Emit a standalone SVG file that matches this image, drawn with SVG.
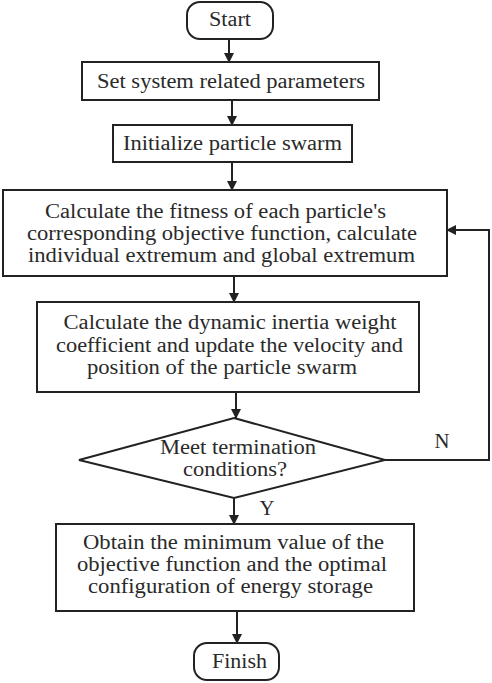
<svg xmlns="http://www.w3.org/2000/svg" width="492" height="683" viewBox="0 0 492 683">
<style>
.n{fill:#fff;stroke:#222;stroke-width:2}
.t{font-family:"Liberation Serif","Times New Roman",serif;font-size:20px;fill:#2a2a2a;text-anchor:middle}
.c{fill:none;stroke:#222;stroke-width:2}
</style>
<defs>
<marker id="a" markerWidth="10" markerHeight="10" refX="9" refY="5" orient="auto" markerUnits="userSpaceOnUse">
<path d="M0,0 L10,5 L0,10 z" fill="#222"/>
</marker>
</defs>
<rect width="492" height="683" fill="#fff"/>
<g id="connectors">
<line class="c" x1="229" y1="39" x2="229" y2="62" marker-end="url(#a)"/>
<line class="c" x1="232" y1="100" x2="232" y2="125" marker-end="url(#a)"/>
<line class="c" x1="232" y1="162" x2="232" y2="190" marker-end="url(#a)"/>
<line class="c" x1="234" y1="276" x2="234" y2="302" marker-end="url(#a)"/>
<line class="c" x1="236" y1="392" x2="236" y2="418" marker-end="url(#a)"/>
<line class="c" x1="234" y1="498" x2="234" y2="524" marker-end="url(#a)"/>
<line class="c" x1="237" y1="611" x2="237" y2="643" marker-end="url(#a)"/>
<polyline class="c" points="385,460 489,460 489,230 447,230" marker-end="url(#a)"/>
<text class="t" x="442" y="448" textLength="15" lengthAdjust="spacingAndGlyphs">N</text>
<text class="t" x="267" y="515" textLength="15" lengthAdjust="spacingAndGlyphs">Y</text>
</g>
<g id="start">
<rect class="n" x="187" y="2" width="86" height="37" rx="13"/>
<text class="t" x="230" y="26" textLength="42" lengthAdjust="spacingAndGlyphs">Start</text>
</g>
<g id="setParams">
<rect class="n" x="82" y="62" width="297" height="38"/>
<text class="t" x="231" y="88" textLength="268" lengthAdjust="spacingAndGlyphs">Set system related parameters</text>
</g>
<g id="initSwarm">
<rect class="n" x="113" y="125" width="239" height="37"/>
<text class="t" x="232.5" y="150" textLength="219" lengthAdjust="spacingAndGlyphs">Initialize particle swarm</text>
</g>
<g id="fitness">
<rect class="n" x="3" y="190" width="444" height="86"/>
<text class="t" x="215.5" y="218" textLength="341" lengthAdjust="spacingAndGlyphs">Calculate the fitness of each particle's</text>
<text class="t" x="222" y="240" textLength="390" lengthAdjust="spacingAndGlyphs">corresponding objective function, calculate</text>
<text class="t" x="221.5" y="262" textLength="387" lengthAdjust="spacingAndGlyphs">individual extremum and global extremum</text>
</g>
<g id="update">
<rect class="n" x="37" y="302" width="382" height="90"/>
<text class="t" x="230" y="329" textLength="333" lengthAdjust="spacingAndGlyphs">Calculate the dynamic inertia weight</text>
<text class="t" x="229.5" y="352" textLength="347" lengthAdjust="spacingAndGlyphs">coefficient and update the velocity and</text>
<text class="t" x="222" y="374" textLength="270" lengthAdjust="spacingAndGlyphs">position of the particle swarm</text>
</g>
<g id="decision">
<polygon class="n" points="234,418 385,460 234,498 79,460"/>
<text class="t" x="238" y="454" textLength="156" lengthAdjust="spacingAndGlyphs">Meet termination</text>
<text class="t" x="235" y="476" textLength="104" lengthAdjust="spacingAndGlyphs">conditions?</text>
</g>
<g id="result">
<rect class="n" x="56" y="524" width="358" height="87"/>
<text class="t" x="233.5" y="549" textLength="301" lengthAdjust="spacingAndGlyphs">Obtain the minimum value of the</text>
<text class="t" x="232" y="571" textLength="310" lengthAdjust="spacingAndGlyphs">objective function and the optimal</text>
<text class="t" x="230.5" y="593" textLength="285" lengthAdjust="spacingAndGlyphs">configuration of energy storage</text>
</g>
<g id="finish">
<rect class="n" x="194" y="643" width="85" height="37" rx="13"/>
<text class="t" x="239.5" y="668" textLength="55" lengthAdjust="spacingAndGlyphs">Finish</text>
</g>
</svg>
